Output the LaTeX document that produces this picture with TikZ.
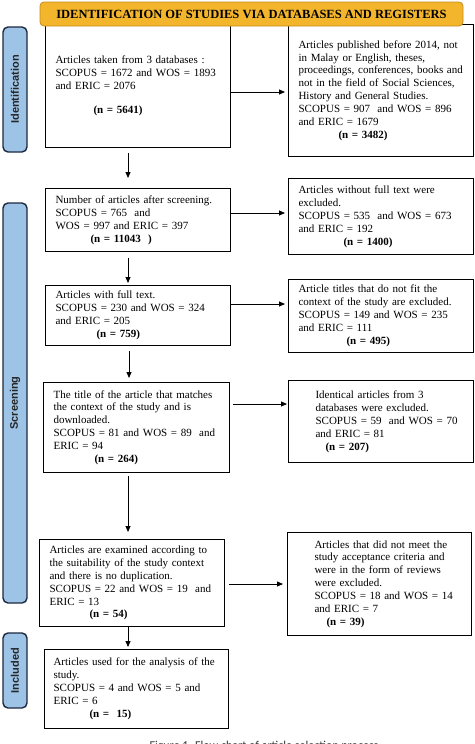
\documentclass[tikz,border=0pt]{standalone}
\usepackage{fontspec}
\setmainfont{Liberation Serif}
\setsansfont{Liberation Sans}
\newfontfamily\capfont{Carlito}
\usetikzlibrary{arrows.meta}
\definecolor{hdrfill}{RGB}{243,181,43}
\definecolor{hdrdraw}{RGB}{196,140,30}
\definecolor{sidefill}{RGB}{157,195,230}
\definecolor{sidedraw}{RGB}{28,40,62}
\newcommand{\nline}[2]{\hspace*{#1pt}\textbf{#2}}
\newcommand{\lsk}[1]{\leftskip=#1pt\relax}
\begin{document}
\begin{tikzpicture}[x=1pt,y=-1pt,
  box/.style={draw=black, line width=1.1pt, anchor=north west, inner xsep=0pt, inner ysep=0pt,
    align=left, font=\fontsize{11}{12.9}\selectfont},
  side/.style={draw=sidedraw, fill=sidefill, line width=1.4pt, rounded corners=5pt, rotate=90,
    minimum height=24pt, inner sep=0pt, text=black!85, font=\sffamily\bfseries\fontsize{11}{13}\selectfont},
  header/.style={draw=hdrdraw, fill=hdrfill, line width=0.8pt, rounded corners=4pt,
    minimum width=423pt, minimum height=24pt, inner sep=0pt, font=\bfseries\fontsize{12.5}{14}\selectfont},
  arr/.style={-{Triangle[length=6pt,width=5pt]}, line width=0.8pt}]
\useasboundingbox (0,0) rectangle (474,744);

% side labels
\node[side, minimum width=125pt] (sid) at (15,89.5) {Identification};
\node[side, minimum width=400pt] (sscr) at (15,403) {Screening};
\node[side, minimum width=75pt] (sinc) at (15,670.5) {Included};

% left boxes
\node[box, text width=185pt, minimum height=123pt] (b1) at (45,24) {\lsk{10}Articles taken from 3 databases :\\ SCOPUS = 1672 and WOS = 1893\\ and ERIC = 2076\\[11pt] \nline{48}{(n = 5641)}};
\node[box, text width=185pt, minimum height=63pt] (b2) at (45,188) {\lsk{10}Number of articles after screening.\\ SCOPUS = 765~ and\\ WOS = 997 and ERIC = 397\\ \nline{45}{(n = 11043~ )}};
\node[box, text width=185pt, minimum height=60pt] (b3) at (45,285) {\lsk{10}Articles with full text.\\ SCOPUS = 230 and WOS = 324\\ and ERIC = 205\\ \nline{51}{(n = 759)}};
\node[box, text width=186pt, minimum height=90pt] (b4) at (43,382) {\lsk{10}The title of the article that matches\\ the context of the study and is\\ downloaded.\\ SCOPUS = 81 and WOS = 89~ and\\ ERIC = 94\\ \nline{51}{(n = 264)}};
\node[box, text width=185pt, minimum height=87pt] (b5) at (39,539) {\lsk{10}Articles are examined according to\\ the suitability of the study context\\ and there is no duplication.\\ SCOPUS = 22 and WOS = 19~ and\\ ERIC = 13\\ \nline{50}{(n = 54)}};
\node[box, text width=184pt, minimum height=79pt] (b6) at (44,649) {\lsk{9}Articles used for the analysis of the\\ study.\\ SCOPUS = 4 and WOS = 5 and\\ ERIC = 6\\ \nline{45}{(n = ~15)}};

% right boxes
\node[box, text width=185pt, minimum height=132pt] (r1) at (288,24) {\lsk{10}Articles published before 2014, not\\ in Malay or English, theses,\\ proceedings, conferences, books and\\ not in the field of Social Sciences,\\ History and General Studies.\\ SCOPUS = 907~ and WOS = 896\\ and ERIC = 1679\\ \nline{50}{(n = 3482)}};
\node[box, text width=185pt, minimum height=76pt] (r2) at (288,178) {\lsk{10}Articles without full text were\\ excluded.\\ SCOPUS = 535~ and WOS = 673\\ and ERIC = 192\\ \nline{55}{(n = 1400)}};
\node[box, text width=185pt, minimum height=73pt] (r3) at (288,279) {\lsk{10}Article titles that do not fit the\\ context of the study are excluded.\\ SCOPUS = 149 and WOS = 235\\ and ERIC = 111\\ \nline{58}{(n = 495)}};
\node[box, text width=185pt, minimum height=82pt] (r4) at (288,380) {\lsk{27}Identical articles from 3\\ databases were excluded.\\ SCOPUS = 59~ and WOS = 70\\ and ERIC = 81\\ \nline{37}{(n = 207)}};
\node[box, text width=184pt, minimum height=103pt] (r5) at (287,532) {\lsk{27}Articles that did not meet the\\ study acceptance criteria and\\ were in the form of reviews\\ were excluded.\\ SCOPUS = 18 and WOS = 14\\ and ERIC = 7\\ \nline{39}{(n = 39)}};

% header
\node[header] (hdr) at (251.5,14) {IDENTIFICATION OF STUDIES VIA DATABASES AND REGISTERS};

% horizontal arrows
\draw[arr, shorten >=3pt] (b1.east |- 0,92) -- (r1.west |- 0,92);
\draw[arr, shorten >=3pt] (b2.east |- 0,213) -- (r2.west |- 0,213);
\draw[arr, shorten >=3pt] (b3.east |- 0,304) -- (r3.west |- 0,304);
\draw[arr, shorten <=3pt, shorten >=1pt] (b4.east |- 0,404) -- (r4.west |- 0,404);
\draw[arr, shorten <=4pt, shorten >=4pt] (b5.east |- 0,584) -- (r5.west |- 0,584);

% vertical arrows
\draw[arr, shorten <=5pt, shorten >=10pt] (b1.south -| 128,0) -- (b2.north -| 128,0);
\draw[arr, shorten <=6pt, shorten >=2pt] (b2.south -| 128,0) -- (b3.north -| 128,0);
\draw[arr, shorten <=5pt, shorten >=4pt] (b3.south -| 129,0) -- (b4.north -| 129,0);
\draw[arr, shorten <=3pt, shorten >=7pt] (b4.south -| 128,0) -- (b5.north -| 128,0);
\draw[arr, shorten <=0pt, shorten >=2pt] (b5.south -| 128,0) -- (b6.north -| 128,0);

% caption (cut off at the bottom edge)
\begin{scope}
\clip (0,0) rectangle (474,744);
\node[anchor=base, inner sep=0pt, text=black!80, font=\capfont\fontsize{12}{14}\selectfont] (cap) at (264,749) {Figure 1. Flow chart of article selection process};
\end{scope}
\end{tikzpicture}
\end{document}
